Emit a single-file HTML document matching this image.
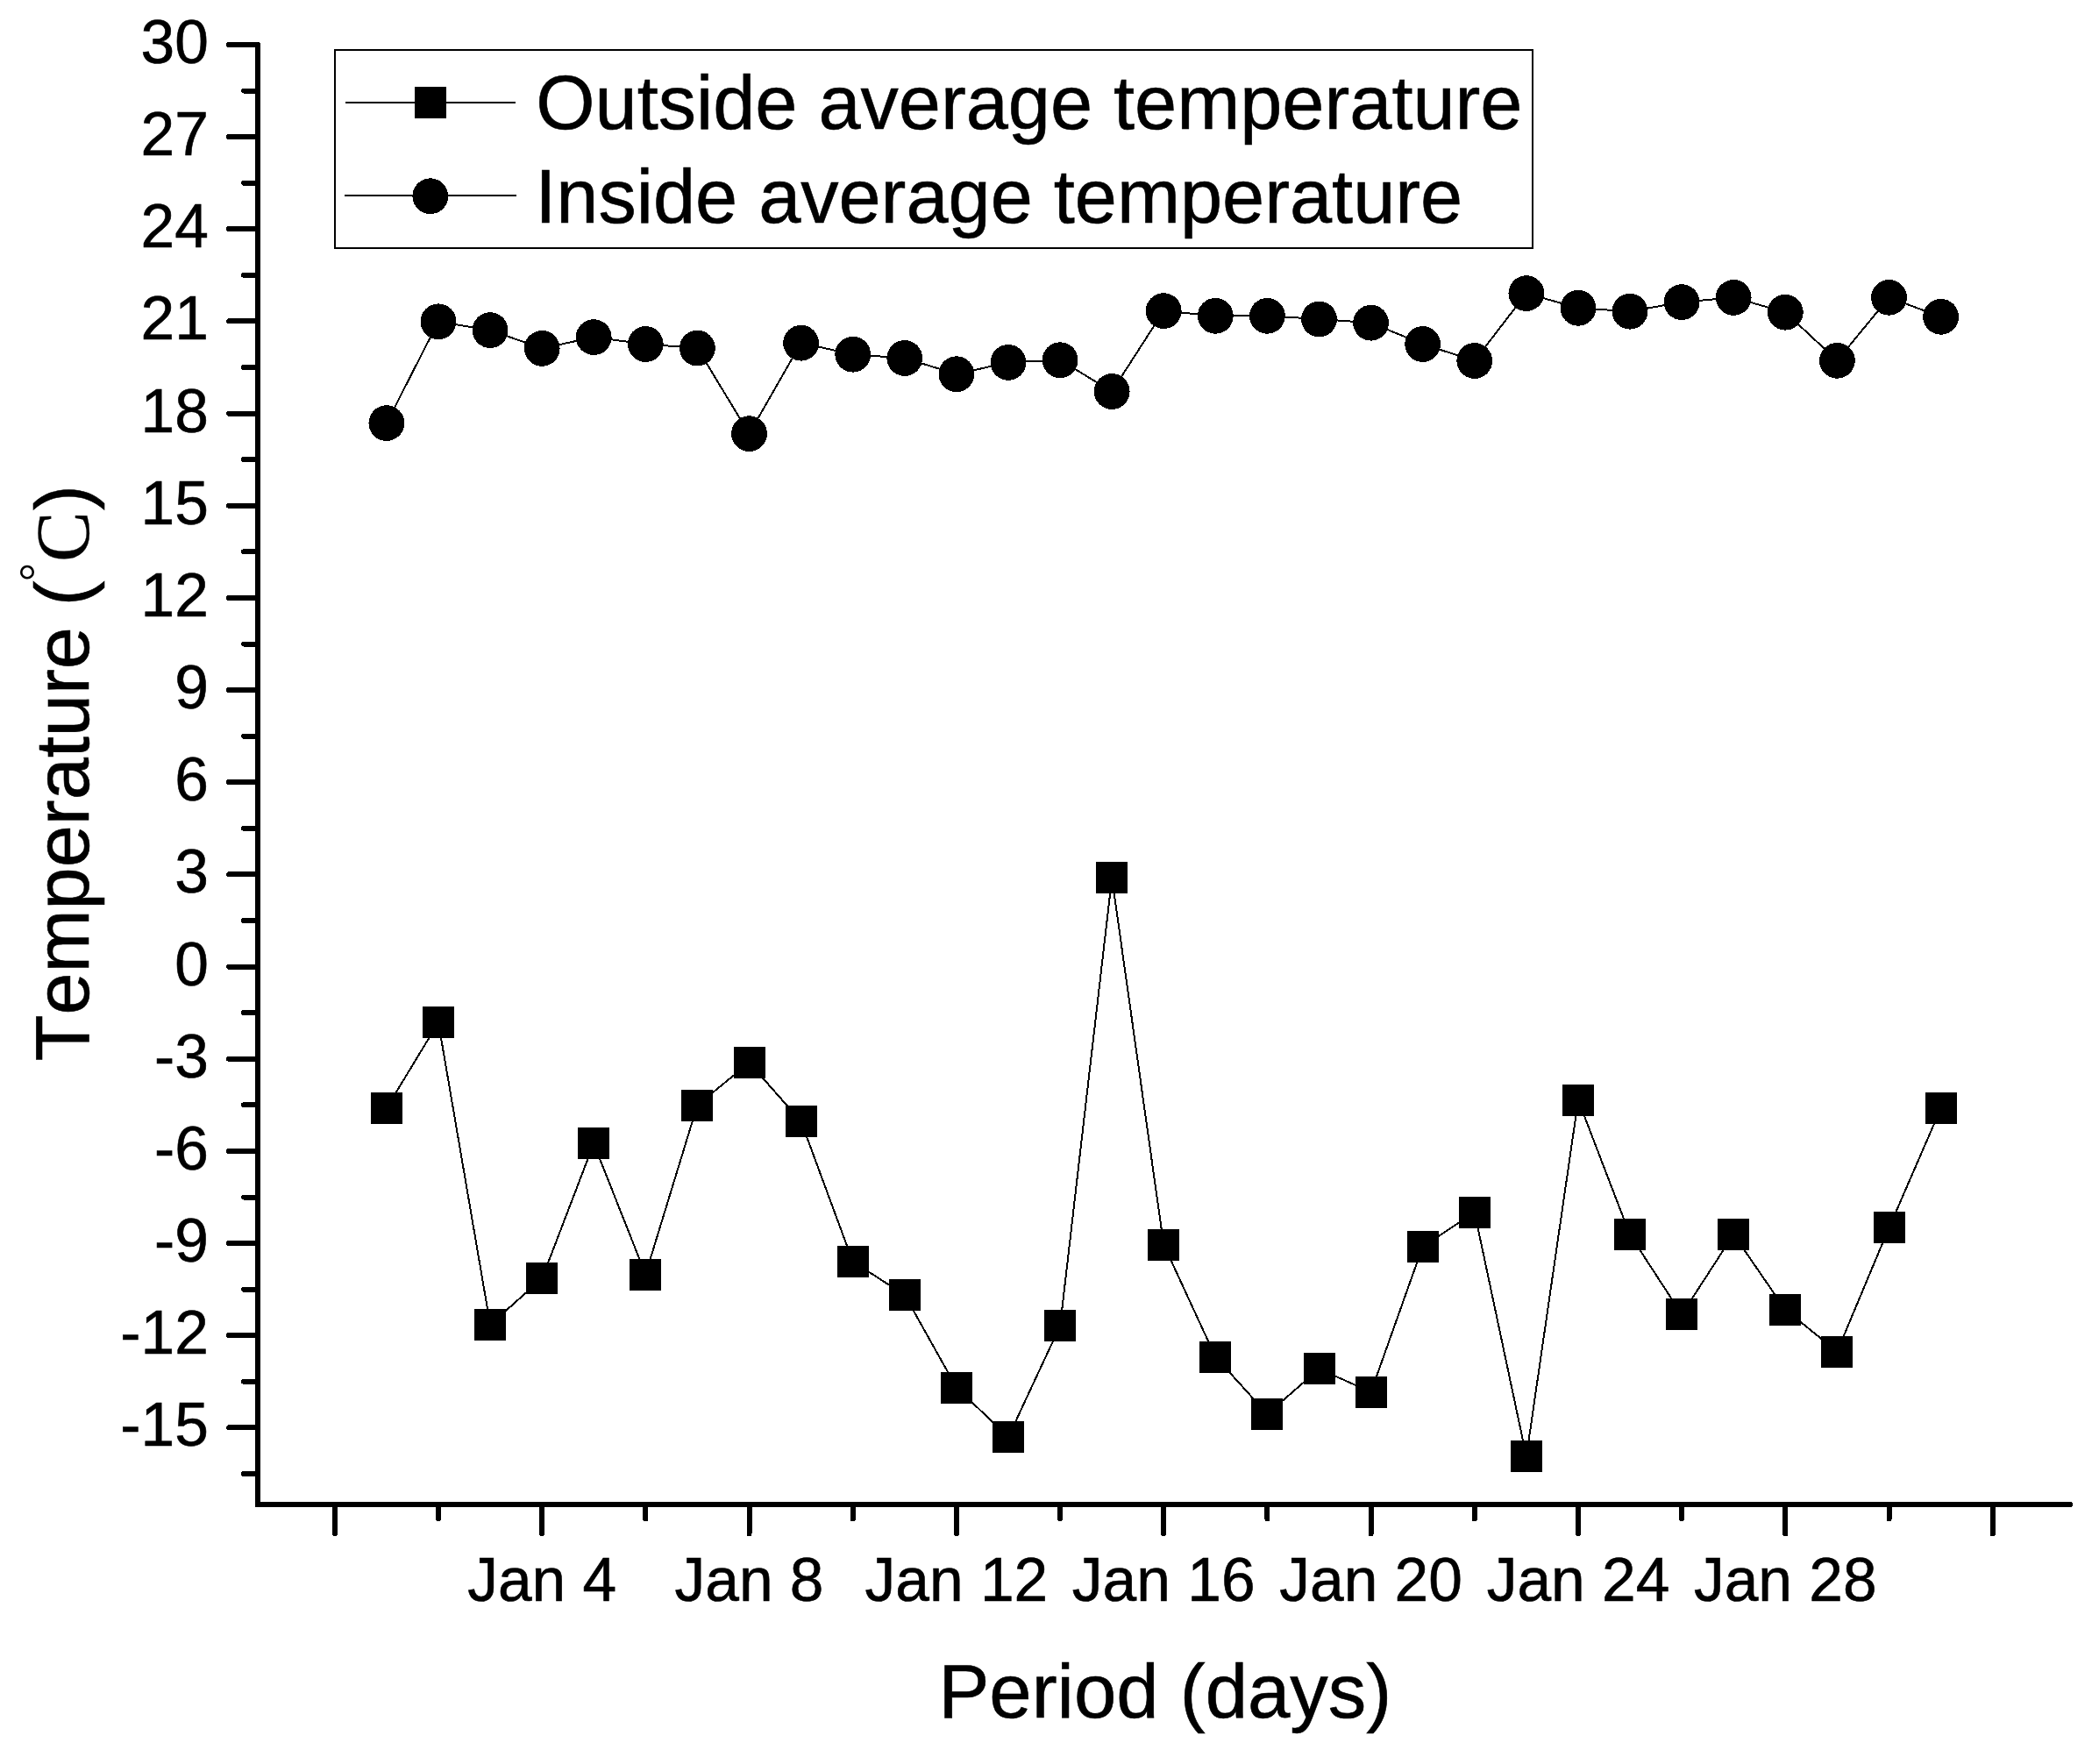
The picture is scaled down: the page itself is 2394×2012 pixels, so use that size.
<!DOCTYPE html>
<html lang="en">
<head>
<meta charset="utf-8">
<title>Outside and inside average temperature</title>
<style>
html,body{margin:0;padding:0;background:#fff;}
body{width:2394px;height:2012px;overflow:hidden;}
svg{display:block;}
text{font-family:"Liberation Sans",sans-serif;fill:#000;stroke:#000;stroke-width:0.6px;font-kerning:none;}
.tk{font-size:69.5px;}
.lb{font-size:86.5px;}
.sr{font-family:"Liberation Serif","Noto Serif CJK SC",serif;stroke-width:0.3px;}
.dg{font-family:"Liberation Serif","Noto Serif CJK SC",serif;font-size:52px;stroke-width:0;}
</style>
</head>
<body>
<svg width="2394" height="2012" viewBox="0 0 2394 2012" shape-rendering="crispEdges">
<rect width="2394" height="2012" fill="#fff"/>
<g stroke="#000" stroke-width="6" fill="none">
<path d="M293.9 50.9 V1716.0 H2361.4" stroke-linecap="round" stroke-linejoin="miter"/>
<path stroke-linecap="round" d="M261.0 50.9H293.9M278.0 103.5H293.9M261.0 156.1H293.9M278.0 208.6H293.9M261.0 261.2H293.9M278.0 313.8H293.9M261.0 366.4H293.9M278.0 419.0H293.9M261.0 471.6H293.9M278.0 524.1H293.9M261.0 576.7H293.9M278.0 629.3H293.9M261.0 681.9H293.9M278.0 734.5H293.9M261.0 787.1H293.9M278.0 839.6H293.9M261.0 892.2H293.9M278.0 944.8H293.9M261.0 997.4H293.9M278.0 1050.0H293.9M261.0 1102.6H293.9M278.0 1155.1H293.9M261.0 1207.7H293.9M278.0 1260.3H293.9M261.0 1312.9H293.9M278.0 1365.5H293.9M261.0 1418.0H293.9M278.0 1470.6H293.9M261.0 1523.2H293.9M278.0 1575.8H293.9M261.0 1628.4H293.9M278.0 1681.0H293.9M381.8 1716.0V1749.3M500.0 1716.0V1732.5M618.2 1716.0V1749.3M736.3 1716.0V1732.5M854.5 1716.0V1749.3M972.7 1716.0V1732.5M1090.9 1716.0V1749.3M1209.1 1716.0V1732.5M1327.2 1716.0V1749.3M1445.4 1716.0V1732.5M1563.6 1716.0V1749.3M1681.8 1716.0V1732.5M1800.0 1716.0V1749.3M1918.1 1716.0V1732.5M2036.3 1716.0V1749.3M2154.5 1716.0V1732.5M2272.7 1716.0V1749.3"/>
</g>
<g class="tk" text-anchor="end">
<text x="237.8" y="71.8">30</text>
<text x="237.8" y="177.0">27</text>
<text x="237.8" y="282.1">24</text>
<text x="237.8" y="387.3">21</text>
<text x="237.8" y="492.5">18</text>
<text x="237.8" y="597.6">15</text>
<text x="237.8" y="702.8">12</text>
<text x="237.8" y="808.0">9</text>
<text x="237.8" y="913.1">6</text>
<text x="237.8" y="1018.3">3</text>
<text x="237.8" y="1123.5">0</text>
<text x="237.8" y="1228.6">-3</text>
<text x="237.8" y="1333.8">-6</text>
<text x="237.8" y="1438.9">-9</text>
<text x="237.8" y="1544.1">-12</text>
<text x="237.8" y="1649.3">-15</text>
</g>
<g class="tk" text-anchor="middle">
<text x="618.2" y="1826">Jan 4</text>
<text x="854.5" y="1826">Jan 8</text>
<text x="1090.9" y="1826">Jan 12</text>
<text x="1327.2" y="1826">Jan 16</text>
<text x="1563.6" y="1826">Jan 20</text>
<text x="1800.0" y="1826">Jan 24</text>
<text x="2036.3" y="1826">Jan 28</text>
</g>
<text class="lb" style="font-size:86.9px" x="1070.4" y="1959.4">Period (days)</text>
<text class="lb" transform="translate(100.6 0) rotate(-90)"><tspan x="-1210.4">Temperature (</tspan><tspan class="dg" x="-663" dy="-42.3">°</tspan><tspan class="sr" x="-641" dy="42.3">C</tspan><tspan x="-581.9">)</tspan></text>
<g stroke="#000" stroke-width="2" fill="none">
<polyline points="440.9,482.6 500.0,366.8 559.1,376.6 618.2,397.4 677.2,384.6 736.3,392.5 795.4,397.1 854.5,494.7 913.6,391.2 972.7,404.2 1031.8,408.5 1090.9,426.7 1150.0,413.4 1209.1,410.7 1268.2,446.5 1327.2,354.6 1386.3,360.3 1445.4,360.3 1504.5,364.0 1563.6,368.2 1622.7,392.5 1681.8,411.5 1740.9,334.6 1800.0,351.3 1859.0,355.2 1918.1,344.6 1977.2,339.4 2036.3,356.2 2095.4,411.3 2154.5,339.3 2213.6,361.3"/>
<polyline points="440.9,1263.8 500.0,1166.3 559.1,1510.9 618.2,1458.3 677.2,1304.4 736.3,1453.5 795.4,1260.5 854.5,1212.1 913.6,1279.0 972.7,1439.0 1031.8,1477.0 1090.9,1582.5 1150.0,1639.1 1209.1,1512.4 1268.2,1001.3 1327.2,1419.5 1386.3,1547.6 1445.4,1612.9 1504.5,1561.3 1563.6,1587.8 1622.7,1421.8 1681.8,1382.8 1740.9,1661.3 1800.0,1254.7 1859.0,1408.3 1918.1,1499.2 1977.2,1408.0 2036.3,1493.9 2095.4,1541.5 2154.5,1400.4 2213.6,1264.3"/>
</g>
<g fill="#000">
<circle cx="440.9" cy="482.6" r="20.4"/><circle cx="500.0" cy="366.8" r="20.4"/><circle cx="559.1" cy="376.6" r="20.4"/><circle cx="618.2" cy="397.4" r="20.4"/><circle cx="677.2" cy="384.6" r="20.4"/><circle cx="736.3" cy="392.5" r="20.4"/><circle cx="795.4" cy="397.1" r="20.4"/><circle cx="854.5" cy="494.7" r="20.4"/><circle cx="913.6" cy="391.2" r="20.4"/><circle cx="972.7" cy="404.2" r="20.4"/><circle cx="1031.8" cy="408.5" r="20.4"/><circle cx="1090.9" cy="426.7" r="20.4"/><circle cx="1150.0" cy="413.4" r="20.4"/><circle cx="1209.1" cy="410.7" r="20.4"/><circle cx="1268.2" cy="446.5" r="20.4"/><circle cx="1327.2" cy="354.6" r="20.4"/><circle cx="1386.3" cy="360.3" r="20.4"/><circle cx="1445.4" cy="360.3" r="20.4"/><circle cx="1504.5" cy="364.0" r="20.4"/><circle cx="1563.6" cy="368.2" r="20.4"/><circle cx="1622.7" cy="392.5" r="20.4"/><circle cx="1681.8" cy="411.5" r="20.4"/><circle cx="1740.9" cy="334.6" r="20.4"/><circle cx="1800.0" cy="351.3" r="20.4"/><circle cx="1859.0" cy="355.2" r="20.4"/><circle cx="1918.1" cy="344.6" r="20.4"/><circle cx="1977.2" cy="339.4" r="20.4"/><circle cx="2036.3" cy="356.2" r="20.4"/><circle cx="2095.4" cy="411.3" r="20.4"/><circle cx="2154.5" cy="339.3" r="20.4"/><circle cx="2213.6" cy="361.3" r="20.4"/>
<rect x="422.9" y="1245.8" width="36" height="36"/><rect x="482.0" y="1148.3" width="36" height="36"/><rect x="541.1" y="1492.9" width="36" height="36"/><rect x="600.2" y="1440.3" width="36" height="36"/><rect x="659.2" y="1286.4" width="36" height="36"/><rect x="718.3" y="1435.5" width="36" height="36"/><rect x="777.4" y="1242.5" width="36" height="36"/><rect x="836.5" y="1194.1" width="36" height="36"/><rect x="895.6" y="1261.0" width="36" height="36"/><rect x="954.7" y="1421.0" width="36" height="36"/><rect x="1013.8" y="1459.0" width="36" height="36"/><rect x="1072.9" y="1564.5" width="36" height="36"/><rect x="1132.0" y="1621.1" width="36" height="36"/><rect x="1191.1" y="1494.4" width="36" height="36"/><rect x="1250.2" y="983.3" width="36" height="36"/><rect x="1309.2" y="1401.5" width="36" height="36"/><rect x="1368.3" y="1529.6" width="36" height="36"/><rect x="1427.4" y="1594.9" width="36" height="36"/><rect x="1486.5" y="1543.3" width="36" height="36"/><rect x="1545.6" y="1569.8" width="36" height="36"/><rect x="1604.7" y="1403.8" width="36" height="36"/><rect x="1663.8" y="1364.8" width="36" height="36"/><rect x="1722.9" y="1643.3" width="36" height="36"/><rect x="1782.0" y="1236.7" width="36" height="36"/><rect x="1841.0" y="1390.3" width="36" height="36"/><rect x="1900.1" y="1481.2" width="36" height="36"/><rect x="1959.2" y="1390.0" width="36" height="36"/><rect x="2018.3" y="1475.9" width="36" height="36"/><rect x="2077.4" y="1523.5" width="36" height="36"/><rect x="2136.5" y="1382.4" width="36" height="36"/><rect x="2195.6" y="1246.3" width="36" height="36"/>
</g>
<rect x="382.4" y="57.3" width="1365.1" height="225.7" fill="#fff" stroke="#000" stroke-width="2"/>
<path d="M393.7 116.8H588.1M392.9 222.7H589" stroke="#000" stroke-width="2" fill="none"/>
<rect x="472.9" y="99" width="36" height="36" fill="#000"/>
<circle cx="490.8" cy="223.7" r="20.4" fill="#000"/>
<text class="lb" x="611.3" y="147.3">Outside average temperature</text>
<text class="lb" x="610.3" y="253.6">Inside average temperature</text>
</svg>
</body>
</html>
